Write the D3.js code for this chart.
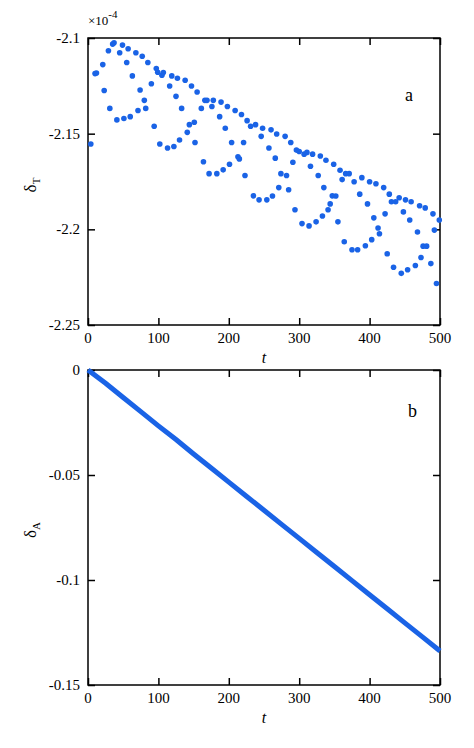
<!DOCTYPE html><html><head><meta charset="utf-8"><script src="https://cdn.jsdelivr.net/npm/d3@7"></script>
<style>body{margin:0;background:#fff}svg text{font-family:"Liberation Serif","Times New Roman",serif !important}</style></head><body><svg id="c" width="474" height="748" font-family="Liberation Serif"></svg><script>
const tA=[4,10,12,21,23,29,31,35,37,41,45,49,51,55,57,60,63,68,71,74,77,80,82,85,90,94,97,99,102,105,107,113,116,119,122,125,127,130,133,138,141,144,147,151,152,155,161,164,166,169,172,176,178,183,187,189,192,195,198,201,204,209,213,215,218,221,223,226,231,235,238,243,246,248,254,257,260,262,266,268,271,274,280,282,285,288,291,294,296,300,304,307,311,314,316,319,324,327,330,333,335,338,341,344,347,349,352,355,358,361,364,366,371,375,378,383,386,389,394,397,400,403,406,409,412,414,420,422,425,428,431,434,437,442,445,448,451,454,457,459,465,468,471,473,476,479,481,487,490,492,495,499];
const dT=[-2.1554,-2.1186,-2.1183,-2.1139,-2.1274,-2.1067,-2.1368,-2.1032,-2.1025,-2.1428,-2.1077,-2.1037,-2.1421,-2.1128,-2.1056,-2.1411,-2.1198,-2.1077,-2.1379,-2.1272,-2.1095,-2.1326,-2.1368,-2.1128,-2.1239,-2.1461,-2.116,-2.1179,-2.1554,-2.1195,-2.118,-2.1575,-2.1251,-2.1198,-2.1567,-2.1305,-2.121,-2.1533,-2.1368,-2.1221,-2.1493,-2.1453,-2.1251,-2.144,-2.1546,-2.1282,-2.1368,-2.1647,-2.1326,-2.1326,-2.1709,-2.1358,-2.1326,-2.1709,-2.1411,-2.1335,-2.1689,-2.1472,-2.1358,-2.166,-2.1546,-2.1379,-2.1621,-2.1632,-2.14,-2.1546,-2.1719,-2.1432,-2.1461,-2.1825,-2.1453,-2.1846,-2.1514,-2.1472,-2.1846,-2.1575,-2.148,-2.1826,-2.1628,-2.1502,-2.1782,-2.1709,-2.1514,-2.1719,-2.1793,-2.1546,-2.1649,-2.1898,-2.1586,-2.1593,-2.197,-2.1607,-2.1598,-2.1982,-2.167,-2.1607,-2.1961,-2.1719,-2.1617,-2.193,-2.1782,-2.1639,-2.1898,-2.1867,-2.1825,-2.166,-2.1826,-2.1961,-2.1691,-2.174,-2.2065,-2.1709,-2.1709,-2.2107,-2.1751,-2.2107,-2.1816,-2.173,-2.2086,-2.1867,-2.1751,-2.2054,-2.194,-2.1762,-2.1993,-2.2023,-2.1782,-2.1919,-2.2128,-2.1816,-2.1856,-2.2198,-2.1856,-2.1835,-2.223,-2.1909,-2.1846,-2.2211,-2.1951,-2.1856,-2.2189,-2.2014,-2.1877,-2.2147,-2.2088,-2.1888,-2.2088,-2.2179,-2.1919,-2.2004,-2.2283,-2.1951];
const tB=[0,25,50,75,100,125,150,175,200,225,250,275,300,325,350,375,400,425,450,475,500];
const dA=[0,-0.0063,-0.0131,-0.0198,-0.0266,-0.0331,-0.0400,-0.0467,-0.0534,-0.0601,-0.0668,-0.0735,-0.0802,-0.0869,-0.0936,-0.1003,-0.1070,-0.1137,-0.1204,-0.1271,-0.1338];
const xTicks=[0,100,200,300,400,500];
const yTicksA=[-2.1,-2.15,-2.2,-2.25], yTicksB=[0,-0.05,-0.1,-0.15];
const blue="#1a63e6";
const svg=d3.select("#c");
function panel(y0,y1,dom,yt,fmt){
  const x=d3.scaleLinear([0,500],[88,440]);
  const y=d3.scaleLinear(dom,[y0,y1]);
  const g=svg.append("g");
  g.append("rect").attr("x",88).attr("y",y0).attr("width",352).attr("height",y1-y0).attr("fill","none").attr("stroke","#000").attr("stroke-width",1.5);
  const ax=(gen,tr,ticks,sz)=>g.append("g").attr("transform",tr).call(gen.tickValues(ticks).tickSize(sz).tickFormat("")).call(s=>s.select(".domain").remove()).selectAll("line").attr("stroke-width",1.5);
  ax(d3.axisBottom(x),`translate(0,${y1})`,xTicks,-7);
  ax(d3.axisTop(x),`translate(0,${y0})`,xTicks,-7);
  ax(d3.axisLeft(y),`translate(88,0)`,yt,-7);
  ax(d3.axisRight(y),`translate(440,0)`,yt,-7);
  xTicks.forEach(v=>g.append("text").attr("x",x(v)).attr("y",y1+18).attr("text-anchor","middle").attr("font-size",15).text(v));
  yt.forEach(v=>g.append("text").attr("x",80).attr("y",y(v)+5).attr("text-anchor","end").attr("font-size",15).text(fmt(v)));
  g.append("text").attr("x",264).attr("y",y1+38).attr("text-anchor","middle").attr("font-size",16).attr("font-style","italic").text("t");
  return {x,y,g};
}
const a=panel(38,325,[-2.1,-2.25],yTicksA,v=>String(v));
a.g.selectAll("circle").data(tA).join("circle").attr("cx",(d)=>a.x(d)).attr("cy",(d,i)=>a.y(dT[i])).attr("r",2.8).attr("fill",blue);
a.g.append("text").attr("x",405).attr("y",101).attr("font-size",18).text("a");
const ex=a.g.append("text").attr("x",88).attr("y",25).attr("font-size",13).text("×10");
ex.append("tspan").attr("dy",-7).attr("font-size",11).text("-4");
const la=a.g.append("text").attr("transform","translate(36,185) rotate(-90)").attr("text-anchor","middle").attr("font-size",17).text("δ");
la.append("tspan").attr("font-size",11).attr("dy",4).text("T");
const b=panel(370,685,[0,-0.15],yTicksB,v=>v===0?"0":String(v));
b.g.append("path").datum(tB).attr("d",d3.line().x(d=>b.x(d)).y((d,i)=>b.y(dA[i]))).attr("fill","none").attr("stroke",blue).attr("stroke-width",5);
b.g.append("text").attr("x",408).attr("y",417).attr("font-size",18).text("b");
const lb=b.g.append("text").attr("transform","translate(36,530) rotate(-90)").attr("text-anchor","middle").attr("font-size",17).text("δ");
lb.append("tspan").attr("font-size",11).attr("dy",4).text("A");
</script></body></html>
